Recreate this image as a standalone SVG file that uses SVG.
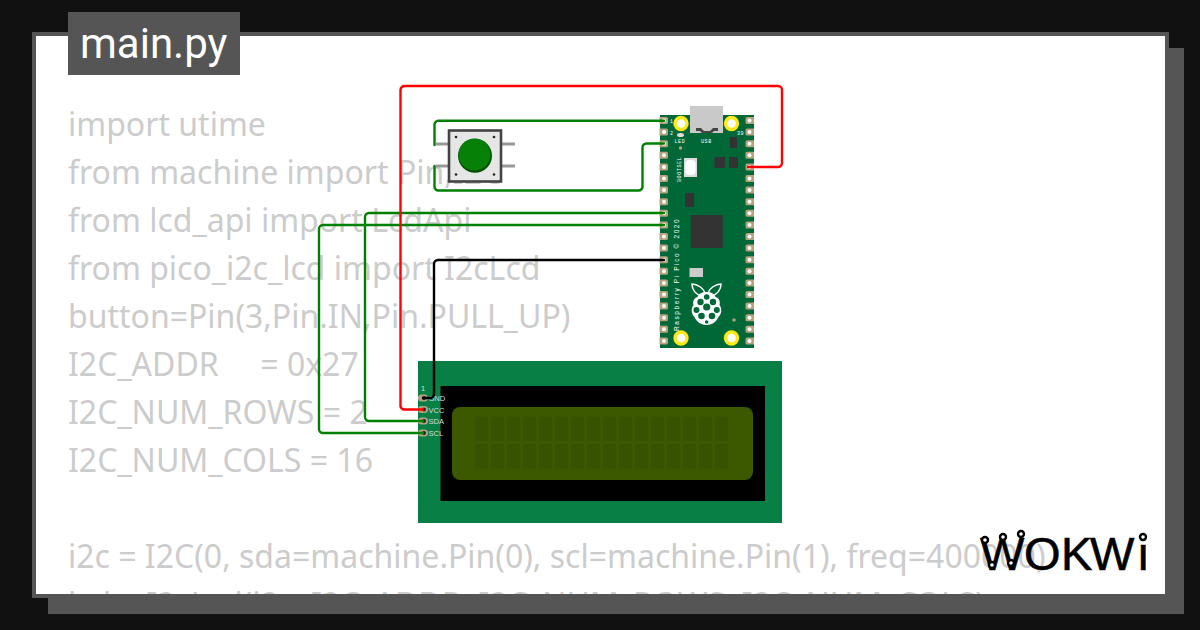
<svg xmlns="http://www.w3.org/2000/svg" width="1200" height="630" viewBox="0 0 1200 630">
<style>
.code{font:32px "Noto Sans","Open Sans",sans-serif;fill:#ccc}
.w{fill:none;stroke-width:2.4;stroke-linecap:round;stroke-linejoin:round}
.g{stroke:#008000}.r{stroke:#f00}.k{stroke:#000}
.pcb{font:5px "Liberation Mono",monospace;fill:#fff;letter-spacing:.6px}
.lcdt{font:7.5px "Liberation Sans",sans-serif;fill:#ddd}
.chip{fill:#333}
.leg{fill:#999}
.dot{fill:#222}
</style>
<defs>
<pattern id="cells" x="475" y="0" width="16" height="630" patternUnits="userSpaceOnUse"><rect width="13.4" height="630" fill="#385300"/></pattern>
<g id="pad"><path d="M0-3.500H7a1.500 1.500 0 0 1 1.500 1.500V2a1.500 1.500 0 0 1-1.500 1.500H0z" fill="#b3a37f"/><circle cx="4.500" cy="0" r="2" fill="#fff"/></g>
<g id="padR"><path d="M8.500-3.500H1.500a1.500 1.500 0 0 0-1.500 1.500V2a1.500 1.500 0 0 0 1.500 1.500H8.500z" fill="#b3a37f"/><circle cx="4" cy="0" r="2" fill="#fff"/></g>
<g id="hole"><circle r="6" fill="#fff" stroke="#ffe81a" stroke-width="3.400"/></g>
<clipPath id="panel"><rect x="36" y="36" width="1129" height="558"/></clipPath>
</defs>
<rect width="1200" height="630" fill="#111"/>
<rect x="48" y="48" width="1136" height="566" fill="#555"/>
<rect x="34" y="34" width="1133" height="562" fill="#fff" stroke="#555" stroke-width="4"/>
<g clip-path="url(#panel)">
<text class="code" x="68" y="136">import utime</text>
<text class="code" x="68" y="184">from machine import Pin,I2C</text>
<text class="code" x="68" y="232">from lcd_api import LcdApi</text>
<text class="code" x="68" y="280">from pico_i2c_lcd import I2cLcd</text>
<text class="code" x="68" y="328">button=Pin(3,Pin.IN,Pin.PULL_UP)</text>
<text class="code" x="68" y="376" xml:space="preserve">I2C_ADDR     = 0x27</text>
<text class="code" x="68" y="424">I2C_NUM_ROWS = 2</text>
<text class="code" x="68" y="472">I2C_NUM_COLS = 16</text>
<text class="code" x="68" y="568">i2c = I2C(0, sda=machine.Pin(0), scl=machine.Pin(1), freq=400000)</text>
<text class="code" x="68" y="616">lcd = I2cLcd(i2c, I2C_ADDR, I2C_NUM_ROWS, I2C_NUM_COLS)</text>
</g>
<g id="title"><rect x="68" y="12" width="172" height="63" fill="#555"/>
<text x="80" y="58" font-family="Roboto,sans-serif" font-size="42" fill="#fff">main.py</text></g>
<g id="lcd">
<rect x="418" y="361" width="364" height="162" fill="#087f45"/>
<rect x="440.500" y="386" width="324.500" height="115" fill="#000"/>
<rect x="452" y="407" width="301" height="73" rx="8" fill="#3c5900"/>
<rect x="475" y="416.700" width="255" height="24.500" fill="url(#cells)"/>
<rect x="475" y="443.700" width="255" height="25" fill="url(#cells)"/>
<g fill="#b3a37f"><rect x="418" y="394.500" width="10" height="7" rx="3.500"/><rect x="418" y="406" width="10" height="7" rx="3.500"/><rect x="418" y="417.500" width="10" height="7" rx="3.500"/><rect x="418" y="429.500" width="10" height="7" rx="3.500"/></g>
<g fill="#222"><circle cx="424" cy="398" r="2"/><circle cx="424" cy="409.500" r="2"/><circle cx="424" cy="421" r="2"/><circle cx="424" cy="433" r="2"/></g>
<text class="lcdt" x="421" y="391">1</text>
<text class="lcdt" x="428.500" y="401">GND</text>
<text class="lcdt" x="428.500" y="412.500">VCC</text>
<text class="lcdt" x="428.500" y="424">SDA</text>
<text class="lcdt" x="428.500" y="436">SCL</text>
</g>
<g id="pico">
<rect x="660" y="115" width="94" height="233" fill="#006837"/>
<rect x="690" y="106" width="33" height="27" fill="#c9c9c9"/>
<path d="M696 128h5l3 3h6l3-3h5v3h-4l-2 2h-10l-2-2h-4z" fill="#444"/>
<g id="leftpads">
<use href="#pad" x="659.500" y="120.500"/><use href="#pad" x="659.500" y="132.100"/><use href="#pad" x="659.500" y="143.700"/><use href="#pad" x="659.500" y="155.300"/><use href="#pad" x="659.500" y="166.900"/><use href="#pad" x="659.500" y="178.500"/><use href="#pad" x="659.500" y="190.100"/><use href="#pad" x="659.500" y="201.700"/><use href="#pad" x="659.500" y="213.300"/><use href="#pad" x="659.500" y="224.900"/><use href="#pad" x="659.500" y="236.500"/><use href="#pad" x="659.500" y="248.100"/><use href="#pad" x="659.500" y="259.700"/><use href="#pad" x="659.500" y="271.300"/><use href="#pad" x="659.500" y="282.900"/><use href="#pad" x="659.500" y="294.500"/><use href="#pad" x="659.500" y="306.100"/><use href="#pad" x="659.500" y="317.700"/><use href="#pad" x="659.500" y="329.300"/><use href="#pad" x="659.500" y="340.900"/>
</g>
<g id="rightpads">
<use href="#padR" x="745.500" y="120.500"/><use href="#padR" x="745.500" y="132.100"/><use href="#padR" x="745.500" y="143.700"/><use href="#padR" x="745.500" y="155.300"/><use href="#padR" x="745.500" y="166.900"/><use href="#padR" x="745.500" y="178.500"/><use href="#padR" x="745.500" y="190.100"/><use href="#padR" x="745.500" y="201.700"/><use href="#padR" x="745.500" y="213.300"/><use href="#padR" x="745.500" y="224.900"/><use href="#padR" x="745.500" y="236.500"/><use href="#padR" x="745.500" y="248.100"/><use href="#padR" x="745.500" y="259.700"/><use href="#padR" x="745.500" y="271.300"/><use href="#padR" x="745.500" y="282.900"/><use href="#padR" x="745.500" y="294.500"/><use href="#padR" x="745.500" y="306.100"/><use href="#padR" x="745.500" y="317.700"/><use href="#padR" x="745.500" y="329.300"/><use href="#padR" x="745.500" y="340.900"/>
</g>
<use href="#hole" x="681" y="123.500"/><use href="#hole" x="731.500" y="123.500"/><use href="#hole" x="681" y="338"/><use href="#hole" x="731.500" y="338"/>
<ellipse cx="680.500" cy="135" rx="3.500" ry="2" fill="#ddd"/>
<circle cx="680.500" cy="148" r="1.700" fill="#b3a37f"/><circle cx="734" cy="320" r="1.700" fill="#b3a37f"/>
<rect x="684" y="158" width="13" height="19" fill="#ddd"/><rect x="685.500" y="160" width="10" height="15" rx="4" fill="#fff"/>
<rect class="chip" x="714.500" y="157" width="10.500" height="11"/><rect class="chip" x="729" y="157" width="9" height="11"/><rect class="chip" x="730" y="137" width="7" height="11"/><rect class="chip" x="685" y="193" width="9" height="14"/><rect class="chip" x="690.700" y="215" width="32" height="33"/>
<rect x="689.500" y="268" width="13.500" height="9" fill="#ccc"/>
<text class="pcb" x="674.500" y="143">LED</text><text class="pcb" x="701" y="143">USB</text>
<text class="pcb" x="670" y="123">1</text><text class="pcb" x="670" y="135">2</text><text class="pcb" x="737" y="135">39</text>
<text class="pcb" transform="translate(681 182) rotate(-90)">BOOTSEL</text>
<text transform="translate(679 331) rotate(-90)" font-family="Liberation Sans,sans-serif" font-size="6.500" letter-spacing="1.600" fill="#fff">Raspberry Pi Pico © 2020</text>
<g id="rpi-logo">
<path d="M705 294c-1-6-8-10-13-10 0 6 4 11 10 12zM708 294c1-6 8-10 13-10 0 6-4 11-10 12z" fill="none" stroke="#fff" stroke-width="1.500"/>
<path d="M706.500 292c5 0 8 2 9 5 4 1 5 5 4 8 3 4 2 9-1 12-2 5-7 8-12 8s-10-3-12-8c-3-3-4-8-1-12-1-3 0-7 4-8 1-3 4-5 9-5z" fill="#fff"/>
<g fill="#006837"><circle cx="700.500" cy="302" r="3.200"/><circle cx="706.700" cy="297" r="2.800"/><circle cx="713" cy="302" r="3.200"/><circle cx="706.700" cy="307" r="3.600"/><circle cx="696.500" cy="310" r="3"/><circle cx="716.800" cy="310" r="3"/><circle cx="701.500" cy="316" r="3.300"/><circle cx="712" cy="316" r="3.300"/><circle cx="706.700" cy="322" r="1.800"/></g>
</g>
</g>
<g id="button">
<rect x="436" y="142.500" width="12" height="3" class="leg"/><rect x="436" y="164.500" width="12" height="3" class="leg"/><rect x="502" y="142.500" width="13" height="3" class="leg"/><rect x="502" y="164.500" width="13" height="3" class="leg"/>
<rect x="449" y="130.500" width="52" height="51" fill="#e6e6e6" stroke="#444" stroke-width="2.600"/>
<circle class="dot" cx="456" cy="137" r="1.300"/><circle class="dot" cx="494" cy="137" r="1.300"/><circle class="dot" cx="456" cy="174.500" r="1.300"/><circle class="dot" cx="494" cy="174.500" r="1.300"/>
<circle cx="475" cy="155.700" r="17" fill="#024f02"/><circle cx="474.500" cy="154.500" r="16" fill="#078007"/>
</g>
<g id="connectors">
<path class="w g" d="M664 120.700H439a4 4 0 0 0-4.500 4.500V145"/>
<path class="w g" d="M434.500 166V186a4 4 0 0 0 4.500 4.500H638a4 4 0 0 0 4.500-4.500V148a4 4 0 0 1 4.500-4.500H664"/>
<path class="w g" d="M664 213H369a4 4 0 0 0-4 4V417a4 4 0 0 0 4 4H423"/>
<path class="w g" d="M664 225H323a4 4 0 0 0-4 4V429a4 4 0 0 0 4 4H423"/>
<path class="w k" d="M664 260H438a4 4 0 0 0-4 4V394a4 4 0 0 1-4 4H423"/>
<path class="w r" d="M748 167H778a4 4 0 0 0 4-4V90a4 4 0 0 0-4-4H405a4 4 0 0 0-4.500 4V405a4 4 0 0 0 4.500 4.500H423"/>
</g>
<g id="logo">
<text y="570" x="980 1024 1061 1090 1138" font-family="Liberation Sans,sans-serif" font-size="47" fill="#000" stroke="#000" stroke-width=".6" stroke-linejoin="round">WOKWi</text>
<g fill="#fff" stroke="#000" stroke-width="2.400"><circle cx="985" cy="540" r="3"/><circle cx="1003" cy="537" r="3"/><circle cx="1021" cy="534" r="3"/><circle cx="992" cy="565" r="3"/><circle cx="1011" cy="563" r="3"/><circle cx="1143" cy="537" r="3"/></g>
</g>
</svg>
